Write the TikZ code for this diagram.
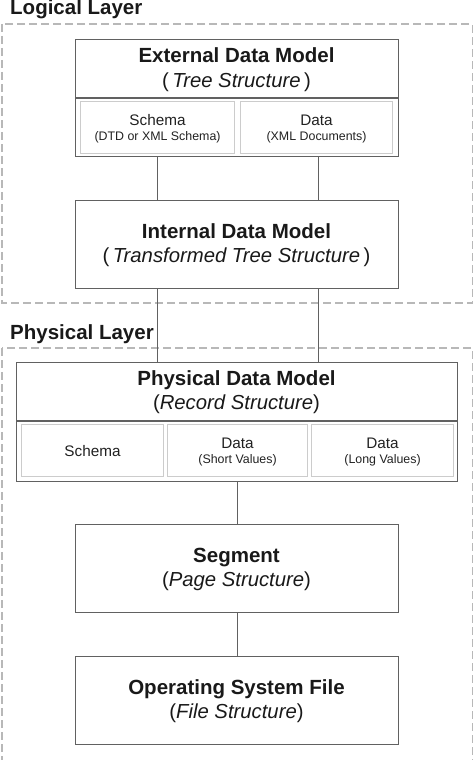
\documentclass[tikz,border=0pt]{standalone}
\usepackage{fontspec}
\setmainfont{Liberation Sans}
\begin{document}
\begin{tikzpicture}[x=1pt,y=-1pt,
  layerbox/.style={draw=black!28, line width=1.1pt, dash pattern=on 8pt off 4pt},
  layertitle/.style={anchor=base west, inner sep=0pt, font=\fontsize{20.5}{24}\selectfont\bfseries, text=black!90},
  mainbox/.style={draw=black!62, line width=1.1pt, anchor=north west, inner sep=0pt},
  subbox/.style={draw=black!20, line width=1.1pt, anchor=north west, inner sep=0pt},
  ttl/.style={anchor=base, inner sep=0pt, font=\fontsize{20.5}{24}\selectfont\bfseries, text=black!90},
  itl/.style={anchor=base, inner sep=0pt, font=\fontsize{20.3}{24}\selectfont, text=black!90},
  sbig/.style={anchor=base, inner sep=0pt, font=\fontsize{15.3}{18}\selectfont, text=black!87},
  ssmall/.style={anchor=base, inner sep=0pt, font=\fontsize{12.4}{15}\selectfont, text=black!87},
  conn/.style={draw=black!62, line width=1.1pt}
]
\useasboundingbox (0,0) rectangle (474,760);
\clip (0,0) rectangle (474,760);

% layers
\node[layertitle] (logt) at (10,15) {Logical Layer};
\draw[layerbox] (2,24) rectangle (472.5,303);
\node[layertitle] (phyt) at (10,339) {Physical Layer};
\draw[layerbox] (2,348) rectangle (472.5,790);

% External Data Model
\node[mainbox, minimum width=323pt, minimum height=117pt] (ext) at (75,39) {};
\coordinate (extdivL) at (75,98);
\coordinate (extdivR) at (398,98);
\draw[conn] (extdivL) -- (extdivR);
\node[ttl] (extt) at (236.5,62.5) {External Data Model};
\node[itl] (exti) at (236.5,87) {(\,\textit{Tree Structure}\,)};
\node[subbox, minimum width=154pt, minimum height=52pt] (eschema) at (80,101) {};
\node[subbox, minimum width=152pt, minimum height=52pt] (edata) at (240,101) {};
\node[sbig] (eschemat) at (eschema.center |- 0,125) {Schema};
\node[ssmall] (eschemas) at (eschema.center |- 0,140) {(DTD or XML Schema)};
\node[sbig] (edatat) at (edata.center |- 0,125) {Data};
\node[ssmall] (edatas) at (edata.center |- 0,140) {(XML Documents)};

% Internal Data Model
\node[mainbox, minimum width=323pt, minimum height=88pt] (int) at (75,200) {};
\node[ttl] (intt) at (236.5,238) {Internal Data Model};
\node[itl] (inti) at (236.5,262.5) {(\,\textit{Transformed Tree Structure}\,)};

% Physical Data Model
\node[mainbox, minimum width=441pt, minimum height=119pt] (phy) at (16,362) {};
\coordinate (phydivL) at (16,421);
\coordinate (phydivR) at (457,421);
\draw[conn] (phydivL) -- (phydivR);
\node[ttl] (phyt2) at (236.5,385) {Physical Data Model};
\node[itl] (phyi) at (236.5,409.5) {(\textit{Record Structure})};
\node[subbox, minimum width=142pt, minimum height=52pt] (pschema) at (21,424) {};
\node[subbox, minimum width=140pt, minimum height=52pt] (pshort) at (167,424) {};
\node[subbox, minimum width=142pt, minimum height=52pt] (plong) at (311,424) {};
\node[sbig] (pschemat) at (pschema.center |- 0,456) {Schema};
\node[sbig] (pshortt) at (pshort.center |- 0,448) {Data};
\node[ssmall] (pshorts) at (pshort.center |- 0,463) {(Short Values)};
\node[sbig] (plongt) at (plong.center |- 0,448) {Data};
\node[ssmall] (plongs) at (plong.center |- 0,463) {(Long Values)};

% Segment
\node[mainbox, minimum width=323pt, minimum height=88pt] (seg) at (75,524) {};
\node[ttl] (segt) at (236.5,562) {Segment};
\node[itl] (segi) at (236.5,586) {(\textit{Page Structure})};

% OS File
\node[mainbox, minimum width=323pt, minimum height=88pt] (osf) at (75,656) {};
\node[ttl] (osft) at (236.5,694) {Operating System File};
\node[itl] (osfi) at (236.5,718) {(\textit{File Structure})};

% connectors
\coordinate (xl) at (157.5,0);
\coordinate (xr) at (318.5,0);
\draw[conn] (xl |- ext.south) -- (xl |- int.north);
\draw[conn] (xr |- ext.south) -- (xr |- int.north);
\draw[conn] (xl |- int.south) -- (xl |- phy.north);
\draw[conn] (xr |- int.south) -- (xr |- phy.north);
\draw[conn] (phy.south) -- (seg.north);
\draw[conn] (seg.south) -- (osf.north);
\end{tikzpicture}
\end{document}
